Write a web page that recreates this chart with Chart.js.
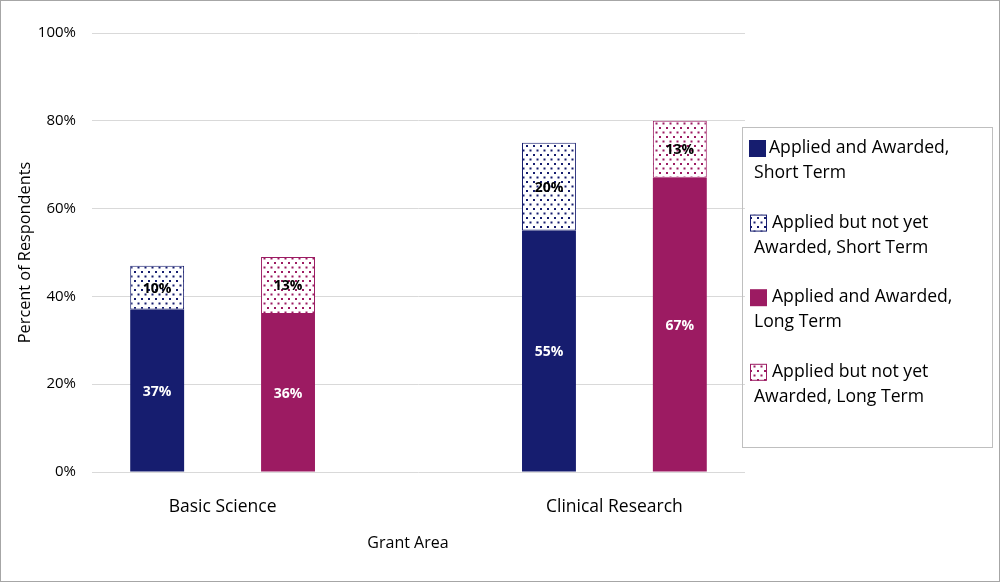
<!DOCTYPE html>
<html>
<head>
<meta charset="utf-8">
<script src="https://cdn.jsdelivr.net/npm/chart.js@4.4.1/dist/chart.umd.min.js"></script>
<style>
	html, body { margin: 0; padding: 0; background: #fff; }
	#wrap { width: 1000px; height: 582px; position: relative; }
</style>
</head>
<body>
<div id="wrap"><canvas id="CanvasGrantArea"></canvas></div>
<script>
// chart data
var categories = ['Basic Science', 'Clinical Research'];
var awardedShort = [37, 55];
var pendingShort = [10, 20];
var awardedLong = [36, 67];
var pendingLong = [13, 13];
var legendLines = [
	['Applied and Awarded,', 'Short Term'],
	['Applied but not yet', 'Awarded, Short Term'],
	['Applied and Awarded,', 'Long Term'],
	['Applied but not yet', 'Awarded, Long Term']
];
var xTitle = 'Grant Area';

var navy = '#161d6f';
var magenta = '#9c1b62';
var fontName = '"Open Sans", Lato, sans-serif';

// small staggered dot pattern used by the "not yet awarded" bars
function MakeDotPattern(color) {
	var c = document.createElement('canvas');
	c.width = 7;
	c.height = 9;
	var g = c.getContext('2d');
	g.fillStyle = '#ffffff';
	g.fillRect(0, 0, 7, 9);
	g.fillStyle = color;
	g.fillRect(1, 1, 2, 2);
	g.fillRect(4.5, 5.5, 2, 2);
	return g.createPattern(c, 'repeat');
}

function ToPoints(values) {
	return values.map(function (v, i) { return { x: i, y: v }; });
}

var navyDots = MakeDotPattern(navy);
var magentaDots = MakeDotPattern(magenta);

var datasets = [];
datasets.push({
	label: legendLines[0].join(' '),
	data: ToPoints(awardedShort),
	stack: 'short',
	backgroundColor: navy,
	borderColor: navy,
	borderWidth: 0,
	labelColor: '#ffffff'
});
datasets.push({
	label: legendLines[1].join(' '),
	data: ToPoints(pendingShort),
	stack: 'short',
	backgroundColor: navyDots,
	borderColor: navy,
	borderWidth: 1,
	borderSkipped: false,
	labelColor: '#000000'
});
datasets.push({
	label: legendLines[2].join(' '),
	data: ToPoints(awardedLong),
	stack: 'long',
	backgroundColor: magenta,
	borderColor: magenta,
	borderWidth: 0,
	labelColor: '#ffffff'
});
datasets.push({
	label: legendLines[3].join(' '),
	data: ToPoints(pendingLong),
	stack: 'long',
	backgroundColor: magentaDots,
	borderColor: magenta,
	borderWidth: 1,
	borderSkipped: false,
	labelColor: '#000000'
});

// frame round the whole picture, plus the x axis title (sits left of the plot centre)
var framePlugin = {
	id: 'frame',
	beforeDraw: function (chart) {
		var ctx = chart.ctx;
		ctx.save();
		ctx.fillStyle = '#ffffff';
		ctx.fillRect(0, 0, chart.width, chart.height);
		ctx.strokeStyle = '#a6a6a6';
		ctx.lineWidth = 1;
		ctx.strokeRect(0.5, 0.5, chart.width - 1, chart.height - 1);
		ctx.fillStyle = '#000000';
		ctx.font = '16px ' + fontName;
		ctx.textAlign = 'center';
		ctx.textBaseline = 'middle';
		ctx.fillText(xTitle, 408, 543);
		ctx.restore();
	}
};

// percent labels in the middle of each segment
var valueLabelPlugin = {
	id: 'valueLabels',
	afterDatasetsDraw: function (chart) {
		var ctx = chart.ctx;
		ctx.save();
		ctx.font = 'bold 14px ' + fontName;
		ctx.textAlign = 'center';
		ctx.textBaseline = 'middle';
		chart.data.datasets.forEach(function (ds, di) {
			var meta = chart.getDatasetMeta(di);
			meta.data.forEach(function (bar, i) {
				ctx.fillStyle = ds.labelColor;
				ctx.fillText(ds.data[i].y + '%', bar.x, (bar.y + bar.base) / 2 + 1);
			});
		});
		ctx.restore();
	}
};

// boxed legend with two-line entries on the right
var legendPlugin = {
	id: 'boxLegend',
	afterDraw: function (chart) {
		var ctx = chart.ctx;
		ctx.save();
		ctx.strokeStyle = '#bfbfbf';
		ctx.lineWidth = 1;
		ctx.strokeRect(742.5, 127.5, 250, 320);
		ctx.font = '17.6px ' + fontName;
		ctx.textBaseline = 'middle';
		ctx.textAlign = 'left';
		chart.data.datasets.forEach(function (ds, i) {
			var cy = 148 + i * 74.6;
			var sx = i === 0 ? 749 : 750;
			ctx.fillStyle = ds.backgroundColor;
			ctx.fillRect(sx, cy - 8, 17, 17);
			if (ds.borderWidth) {
				ctx.strokeStyle = ds.borderColor;
				ctx.strokeRect(sx + 0.5, cy - 7.5, 16, 16);
			}
			ctx.fillStyle = '#000000';
			ctx.fillText(legendLines[i][0], i === 0 ? 769 : 772, cy);
			ctx.fillText(legendLines[i][1], 754, cy + 25);
		});
		ctx.restore();
	}
};

const context = document.getElementById('CanvasGrantArea');
const myChart = new Chart(context, {
	type: 'bar',
	data: {
		datasets: datasets
	},
	plugins: [framePlugin, valueLabelPlugin, legendPlugin],
	options: {
		responsive: true,
		maintainAspectRatio: false,
		animation: false,
		layout: {
			padding: { left: 0, right: 255, top: 33, bottom: 0 }
		},
		datasets: {
			bar: {
				categoryPercentage: 0.668,
				barPercentage: 0.412
			}
		},
		plugins: {
			legend: { display: false },
			tooltip: { enabled: false }
		},
		scales: {
			x: {
				type: 'linear',
				offset: false,
				min: -1 / 3,
				max: 4 / 3,
				stacked: true,
				grid: { display: false },
				border: { display: false },
				afterBuildTicks: function (scale) {
					scale.ticks = categories.map(function (c, i) { return { value: i }; });
				},
				afterFit: function (scale) {
					scale.height = 110;
				},
				ticks: {
					autoSkip: false,
					maxRotation: 0,
					padding: 17,
					color: '#000000',
					font: { family: fontName, size: 17.5 },
					callback: function (value) { return categories[value]; }
				}
			},
			y: {
				stacked: true,
				min: 0,
				max: 100,
				grid: {
					color: '#d9d9d9',
					drawTicks: false
				},
				border: { display: false },
				afterFit: function (scale) {
					scale.width = 92;
				},
				ticks: {
					stepSize: 20,
					padding: 16,
					color: '#000000',
					font: { family: fontName, size: 15 },
					callback: function (value) { return value + '%'; }
				},
				title: {
					display: true,
					text: 'Percent of Respondents',
					color: '#000000',
					font: { family: fontName, size: 16.3 },
					padding: { top: 16, bottom: 0 }
				}
			}
		}
	}
});
</script>
</body>
</html>
